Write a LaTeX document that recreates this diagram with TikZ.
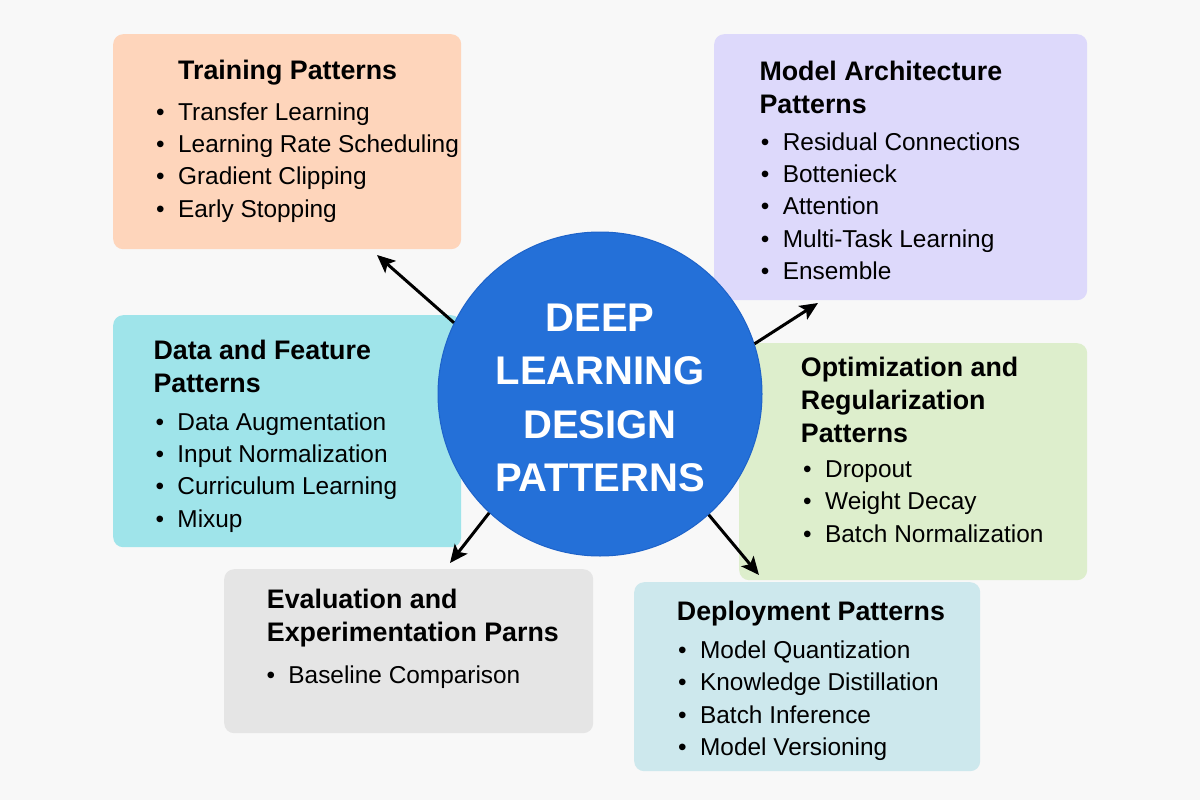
\documentclass[tikz,border=0pt]{standalone}
\usepackage{fontspec}
\setmainfont{Liberation Sans}
\usepackage{xcolor}
\usetikzlibrary{
    arrows.meta
}

\definecolor{pagebg}{HTML}{F8F8F8}
\definecolor{trainfill}{HTML}{FED5BB}
\definecolor{archfill}{HTML}{DDD9FB}
\definecolor{datafill}{HTML}{9FE4EA}
\definecolor{optfill}{HTML}{DDEECC}
\definecolor{evalfill}{HTML}{E5E5E5}
\definecolor{deployfill}{HTML}{CDE8ED}
\definecolor{hubblue}{HTML}{2470D8}
\definecolor{hubedge}{HTML}{1E63C9}

\newcommand{\dotitem}{\textbullet\hspace{13.4pt}}

\begin{document}
\begin{tikzpicture}[
    x=1pt, y=-1pt,
    panel/.style={
        rectangle,
        rounded corners=10pt,
        anchor=north west,
        inner sep=0pt
    },
    heading/.style={
        anchor=north west,
        inner sep=0pt,
        align=left,
        font=\fontsize{26.8}{32.8}\selectfont\bfseries
    },
    entries/.style={
        anchor=north west,
        inner sep=0pt,
        align=left,
        font=\fontsize{24.4}{32.3}\selectfont
    },
    hub/.style={
        circle,
        fill=hubblue,
        draw=hubedge,
        line width=1pt,
        minimum size=324pt,
        inner sep=0pt
    },
    hubtext/.style={
        inner sep=0pt,
        text=white,
        align=center,
        font=\fontsize{40}{53.3}\selectfont\bfseries
    },
    arrow/.style={-{Stealth[length=18pt, width=16pt, inset=4pt]}, line width=3pt}
]

\fill[pagebg] (0,0) rectangle (1200,800);
\useasboundingbox (0,0) rectangle (1200,800);

\node[panel, fill=trainfill, minimum width=348pt, minimum height=215pt] (training) at (113,34) {};
\node[panel, fill=archfill, minimum width=373pt, minimum height=266pt] (architecture) at (714,34) {};
\node[panel, fill=datafill, minimum width=348pt, minimum height=232pt] (datafeat) at (113,315) {};
\node[panel, fill=optfill, minimum width=348pt, minimum height=237pt] (optreg) at (739,343) {};
\node[panel, fill=evalfill, minimum width=369pt, minimum height=164pt] (evaluation) at (224,569) {};
\node[panel, fill=deployfill, minimum width=346pt, minimum height=189pt] (deployment) at (634,582) {};

\node[heading] (training-head) at (178,60.1) {Training Patterns};
\node[entries] (training-list) at (156,102.4)
    {\dotitem Transfer Learning\\ \dotitem Learning Rate Scheduling\\
     \dotitem Gradient Clipping\\ \dotitem Early Stopping};

\node[heading] (architecture-head) at (759.3,60.8) {Model Architecture\\Patterns};
\node[entries] (architecture-list) at (760.7,132.4)
    {\dotitem Residual Connections\\ \dotitem Bottenieck\\ \dotitem Attention\\
     \dotitem Multi-Task Learning\\ \dotitem Ensemble};

\node[heading] (datafeat-head) at (153.3,340.1) {Data and Feature\\Patterns};
\node[entries] (datafeat-list) at (155.3,412.4)
    {\dotitem Data Augmentation\\ \dotitem Input Normalization\\
     \dotitem Curriculum Learning\\ \dotitem Mixup};

\node[heading] (optreg-head) at (800.7,356.8) {Optimization and\\Regularization\\Patterns};
\node[entries] (optreg-list) at (803,460.7)
    {\dotitem Dropout\\ \dotitem Weight Decay\\ \dotitem Batch Normalization};

\node[heading] (evaluation-head) at (266.7,589.1) {Evaluation and\\Experimentation Parns};
\node[entries] (evaluation-list) at (266.3,665.7) {\dotitem Baseline Comparison};

\node[heading] (deployment-head) at (676.7,600.8) {Deployment Patterns};
\node[entries] (deployment-list) at (678,640.7)
    {\dotitem Model Quantization\\ \dotitem Knowledge Distillation\\
     \dotitem Batch Inference\\ \dotitem Model Versioning};

\node[hub] (hub) at (600,394) {};
\node[hubtext] (hub-title) at (600,398) {DEEP\\LEARNING\\DESIGN\\PATTERNS};

\coordinate (totraining) at (377,255);
\coordinate (toarchitecture) at (818,303);
\coordinate (toevaluation) at (450,563);
\coordinate (todeployment) at (759,575);

\draw[arrow] (hub.154) -- (totraining);
\draw[arrow] (hub.18.5) -- (toarchitecture);
\draw[arrow] (hub.227) -- (toevaluation);
\draw[arrow] (hub.312.5) -- (todeployment);

\end{tikzpicture}
\end{document}
